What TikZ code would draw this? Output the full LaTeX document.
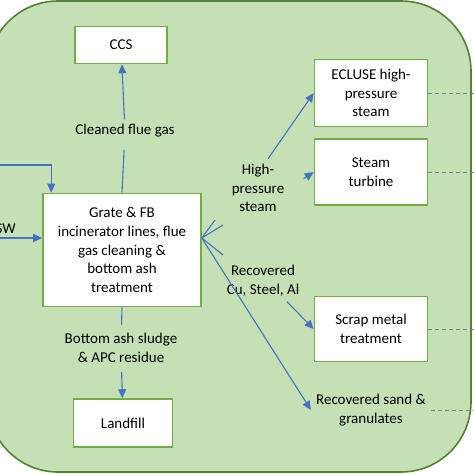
\documentclass[tikz,border=0pt]{standalone}
\usepackage{fontspec}
\setmainfont{Carlito}
\usetikzlibrary{arrows.meta, positioning}
\definecolor{panelgreen}{RGB}{197,224,180}
\definecolor{paneledge}{RGB}{84,130,53}
\definecolor{boxgreen}{RGB}{112,173,71}
\definecolor{flowblue}{RGB}{68,114,196}
\definecolor{linkgray}{RGB}{100,132,160}

\begin{document}
\begin{tikzpicture}[x=1pt, y=-1pt, font=\fontsize{15}{18.7}\selectfont]
  \tikzstyle{block} = [rectangle, draw=boxgreen, line width=1.6pt, fill=white, align=center, inner sep=2pt]
  \tikzstyle{note} = [align=center, inner sep=5pt]
  \tikzstyle{flow} = [draw=flowblue, line width=1.1pt]
  \tikzstyle{arrow} = [flow, -{Triangle[length=9pt, width=8pt]}]
  \tikzstyle{link} = [draw=linkgray, line width=0.8pt, dash pattern=on 4pt off 3pt]

  \useasboundingbox (0,0) rectangle (474,474);
  % plant boundary
  \draw[fill=panelgreen, draw=paneledge, line width=1.6pt, rounded corners=70pt] (-12,1) rectangle (471,472);

  \node[block, minimum width=92pt, minimum height=37pt] (ccs) at (121,45) {CCS};
  \node[block, minimum width=158pt, minimum height=113pt] (grate) at (122,250) {Grate \& FB\\incinerator lines, flue\\gas cleaning \&\\bottom ash\\treatment};
  \node[block, minimum width=99pt, minimum height=48pt] (landfill) at (123,423) {Landfill};
  \node[block, minimum width=113pt, minimum height=67pt] (ecluse) at (371,93) {ECLUSE high-\\pressure\\steam};
  \node[block, minimum width=113pt, minimum height=66pt, below=11pt of ecluse] (turbine) {Steam\\turbine};
  \node[block, minimum width=113pt, minimum height=65pt] (scrap) at (371,329) {Scrap metal\\treatment};
  \node[note] (sand) at (371,410) {Recovered sand \&\\granulates};

  \node[note] (gas) at (125,131) {Cleaned flue gas};
  \node[note] (ash) at (121,348) {Bottom ash sludge\\\& APC residue};
  \node[note] (hp) at (258,188) {High-\\pressure\\steam};
  \node[note] (rec) at (263,281) {Recovered\\Cu, Steel, Al};
  \node[note, anchor=east] (msw) at (21,229) {MSW};

  % inputs from the left
  \coordinate (feedin) at (-15,165);
  \coordinate (mswin) at (-15,238);
  \draw[arrow] (feedin) -| ([xshift=9pt]grate.north west);
  \draw[arrow] (mswin) -- (mswin -| grate.west);

  % outputs
  \draw[flow, shorten >=7pt] (grate.north) -- (gas);
  \draw[arrow] (gas) -- (ccs);
  \draw[flow, shorten >=3pt] (grate.south) -- (ash);
  \draw[arrow, shorten <=4pt] (ash) -- (landfill);

  \coordinate (hub) at ([yshift=12pt]grate.east);
  \coordinate (fanA) at (215,220);
  \coordinate (fanB) at (223,225);
  \coordinate (fanC) at (223,255);
  \draw[flow] (hub) -- (fanA);
  \draw[flow] (hub) -- (fanB);
  \draw[flow] (hub) -- (fanC);
  \draw[arrow] (hub) -- (sand.west);

  \draw[arrow] ([xshift=10pt]hp.north) -- (ecluse.west);
  \draw[arrow, shorten <=17pt] (hp.east) -- (turbine.west);
  \draw[arrow] ([xshift=24pt]rec.south) -- (scrap.west);

  % links leaving the plant
  \coordinate (rim) at (480,0);
  \foreach \n in {ecluse, turbine, scrap, sand}
    \draw[link] (\n.east) -- (\n.east -| rim);
\end{tikzpicture}
\end{document}
